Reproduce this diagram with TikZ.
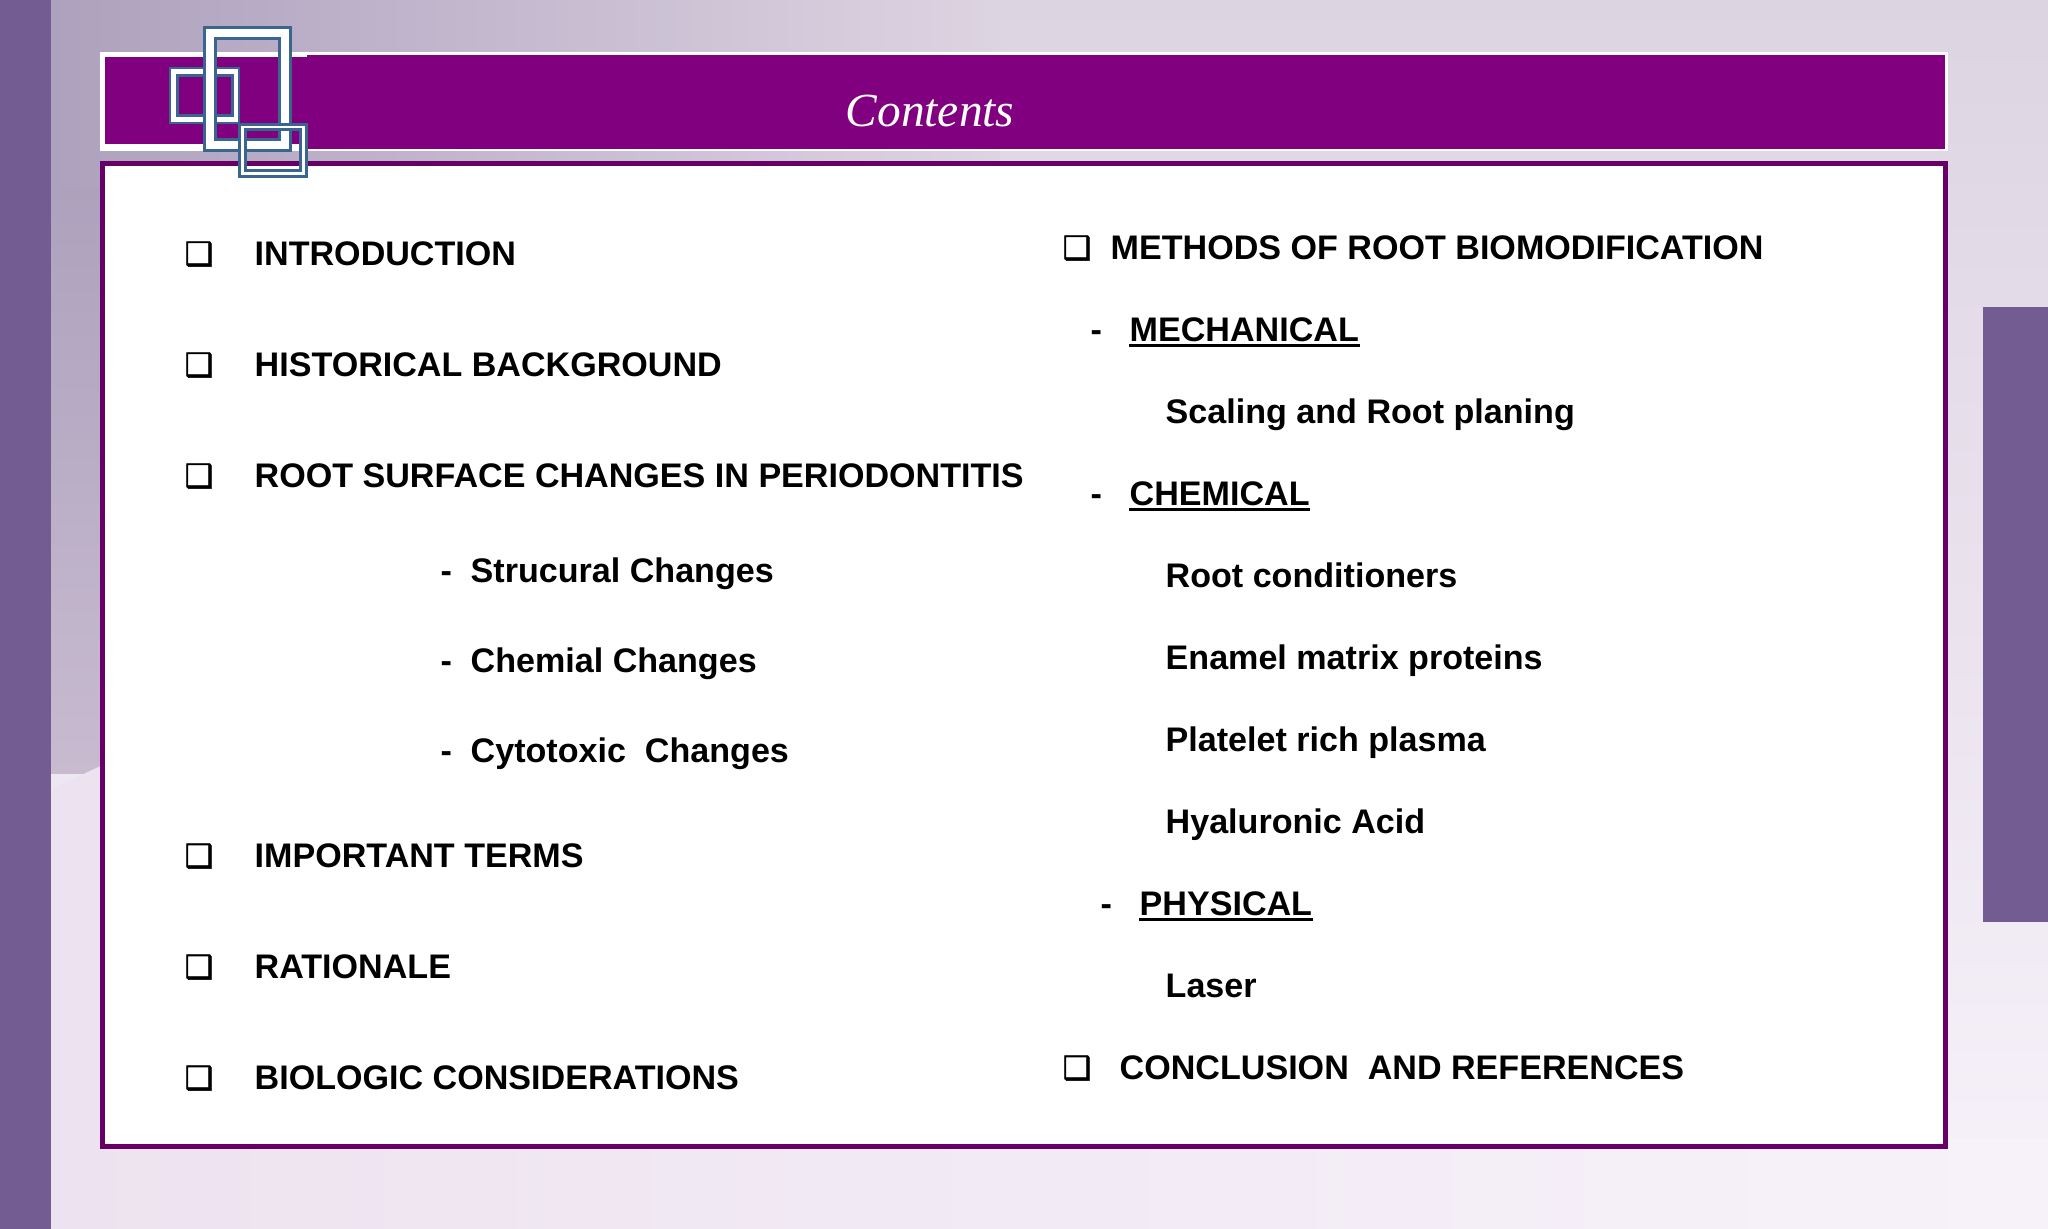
\documentclass[tikz,border=0pt]{standalone}
\usepackage{fontspec}
\setmainfont{Liberation Sans}
\newfontfamily\titlefont{Liberation Serif}
\newfontfamily\boxfont[FakeBold=1.6]{DejaVu Sans}
\definecolor{bandpurple}{HTML}{800080}
\definecolor{panelpurple}{HTML}{660066}
\definecolor{logoblue}{HTML}{3A6591}
\definecolor{stripepurple}{HTML}{735C92}
\definecolor{paleback}{HTML}{DDD4E2}
\definecolor{midback}{HTML}{ADA1BD}
\definecolor{lowback}{HTML}{F7F2FA}
\definecolor{gutterback}{HTML}{C8BBD0}
\definecolor{gutterlow}{HTML}{EDE3F0}
\begin{document}
\begin{tikzpicture}[
            entry/.style={anchor=base west, inner sep=0pt, font=\fontsize{9.7pt}{12pt}\selectfont\bfseries},
            tick/.style={anchor=base west, inner sep=0pt, font=\fontsize{9.1pt}{12pt}\selectfont\boxfont},
            uline/.style={line width=0.85pt},
            logoline/.style={draw=logoblue, line width=1pt},
            logoband/.style={draw=white, line width=2.6pt},
            logothin/.style={draw=white, line width=1.6pt}
        ]

% Page and background
            \useasboundingbox (0,0) rectangle (20.48,12.29);
            \shade [top color=paleback, bottom color=lowback] (0,0) rectangle (20.48,12.29);
            \shade [left color=midback, right color=paleback] (0.51,10.4) rectangle (10,12.29);
            \shade [top color=midback, bottom color=gutterback] (0.51,4.55) rectangle (1.05,10.4);
            \shade [top color=gutterlow, bottom color=gutterlow] (0.51,0.80) -- (0.51,4.40) -- (1.05,4.65) -- (1.05,0.80) -- cycle;
            \shade [left color=gutterlow, right color=lowback] (0.51,0) rectangle (20.48,0.90);
            \fill [stripepurple] (0,0) rectangle (0.51,12.29);
            \fill [stripepurple] (19.83,3.07) rectangle (20.48,9.22);

% Title band and main panel
            \fill [white] (1.00,10.78) rectangle (19.48,11.77);
            \fill [bandpurple] (1.05,10.85) rectangle (3.07,11.72);
            \fill [bandpurple] (3.07,10.80) rectangle (19.45,11.74);
            \node (panel) [draw=panelpurple, fill=white, line width=1.4pt, minimum width=18.43cm, minimum height=9.83cm, anchor=south west, inner sep=0pt] at (1.00,0.80) {};
            \node (title) [anchor=base west, inner sep=0pt, text=white, font=\fontsize{13.5pt}{16pt}\selectfont\titlefont\itshape] at (8.45,11.02) {Contents};

% Logo, left square first and then the tall one
            \draw [logoline] (1.705,11.065) rectangle (2.385,11.605);
            \draw [logothin] (1.74,11.10) rectangle (2.355,11.57);
            \draw [logoline] (1.775,11.135) rectangle (2.325,11.535);
            \draw [logoband] (2.10,10.84) rectangle (2.85,11.96);
            \draw [logoline] (2.045,10.785) rectangle (2.905,12.015);
            \draw [logoline] (2.155,10.895) rectangle (2.795,11.905);
            \draw [logothin] (2.425,10.555) rectangle (3.035,11.02);
            \draw [logoline] (2.395,10.525) rectangle (3.065,11.045);
            \draw [logoline] (2.455,10.585) rectangle (3.005,10.995);

% Left column
            \node (tickintro) [tick] at (1.84,9.64) {❑};
            \node (intro) [entry] at (2.54,9.635) {INTRODUCTION};
            \node (tickhist) [tick] at (1.84,8.53) {❑};
            \node (hist) [entry] at (2.54,8.525) {HISTORICAL BACKGROUND};
            \node (tickroot) [tick] at (1.84,7.42) {❑};
            \node (root) [entry] at (2.54,7.415) {ROOT SURFACE CHANGES IN PERIODONTITIS};
            \node (dashstruct) [entry] at (4.40,6.46) {-};
            \node (struct) [entry] at (4.70,6.46) {Strucural Changes};
            \node (dashchem) [entry] at (4.40,5.56) {-};
            \node (chem) [entry] at (4.70,5.56) {Chemial Changes};
            \node (dashcyto) [entry] at (4.40,4.66) {-};
            \node (cyto) [entry] at (4.70,4.66) {Cytotoxic\ \ Changes};
            \node (tickterms) [tick] at (1.84,3.62) {❑};
            \node (terms) [entry] at (2.54,3.615) {IMPORTANT TERMS};
            \node (tickrat) [tick] at (1.84,2.51) {❑};
            \node (rat) [entry] at (2.54,2.505) {RATIONALE};
            \node (tickbio) [tick] at (1.84,1.40) {❑};
            \node (bio) [entry] at (2.54,1.395) {BIOLOGIC CONSIDERATIONS};

% Right column
            \node (tickmeth) [tick] at (10.62,9.70) {❑};
            \node (meth) [entry] at (11.10,9.695) {METHODS OF ROOT BIOMODIFICATION};
            \node (dashmech) [entry] at (10.90,8.875) {-};
            \node (mech) [entry] at (11.29,8.875) {MECHANICAL};
            \node (scaling) [entry] at (11.65,8.055) {Scaling and Root planing};
            \node (dashchm) [entry] at (10.90,7.235) {-};
            \node (chm) [entry] at (11.29,7.235) {CHEMICAL};
            \node (cond) [entry] at (11.65,6.415) {Root conditioners};
            \node (enamel) [entry] at (11.65,5.595) {Enamel matrix proteins};
            \node (plasma) [entry] at (11.65,4.775) {Platelet rich plasma};
            \node (acid) [entry] at (11.65,3.955) {Hyaluronic Acid};
            \node (dashphys) [entry] at (11.00,3.135) {-};
            \node (phys) [entry] at (11.39,3.135) {PHYSICAL};
            \node (laser) [entry] at (11.65,2.315) {Laser};
            \node (tickconc) [tick] at (10.62,1.50) {❑};
            \node (conc) [entry] at (11.19,1.495) {CONCLUSION\ \ AND REFERENCES};

% Underlines
            \draw [uline] ([yshift=-1.1pt]mech.base west) -- ([yshift=-1.1pt]mech.base east);
            \draw [uline] ([yshift=-1.1pt]chm.base west) -- ([yshift=-1.1pt]chm.base east);
            \draw [uline] ([yshift=-1.1pt]phys.base west) -- ([yshift=-1.1pt]phys.base east);

        \end{tikzpicture}
\end{document}
